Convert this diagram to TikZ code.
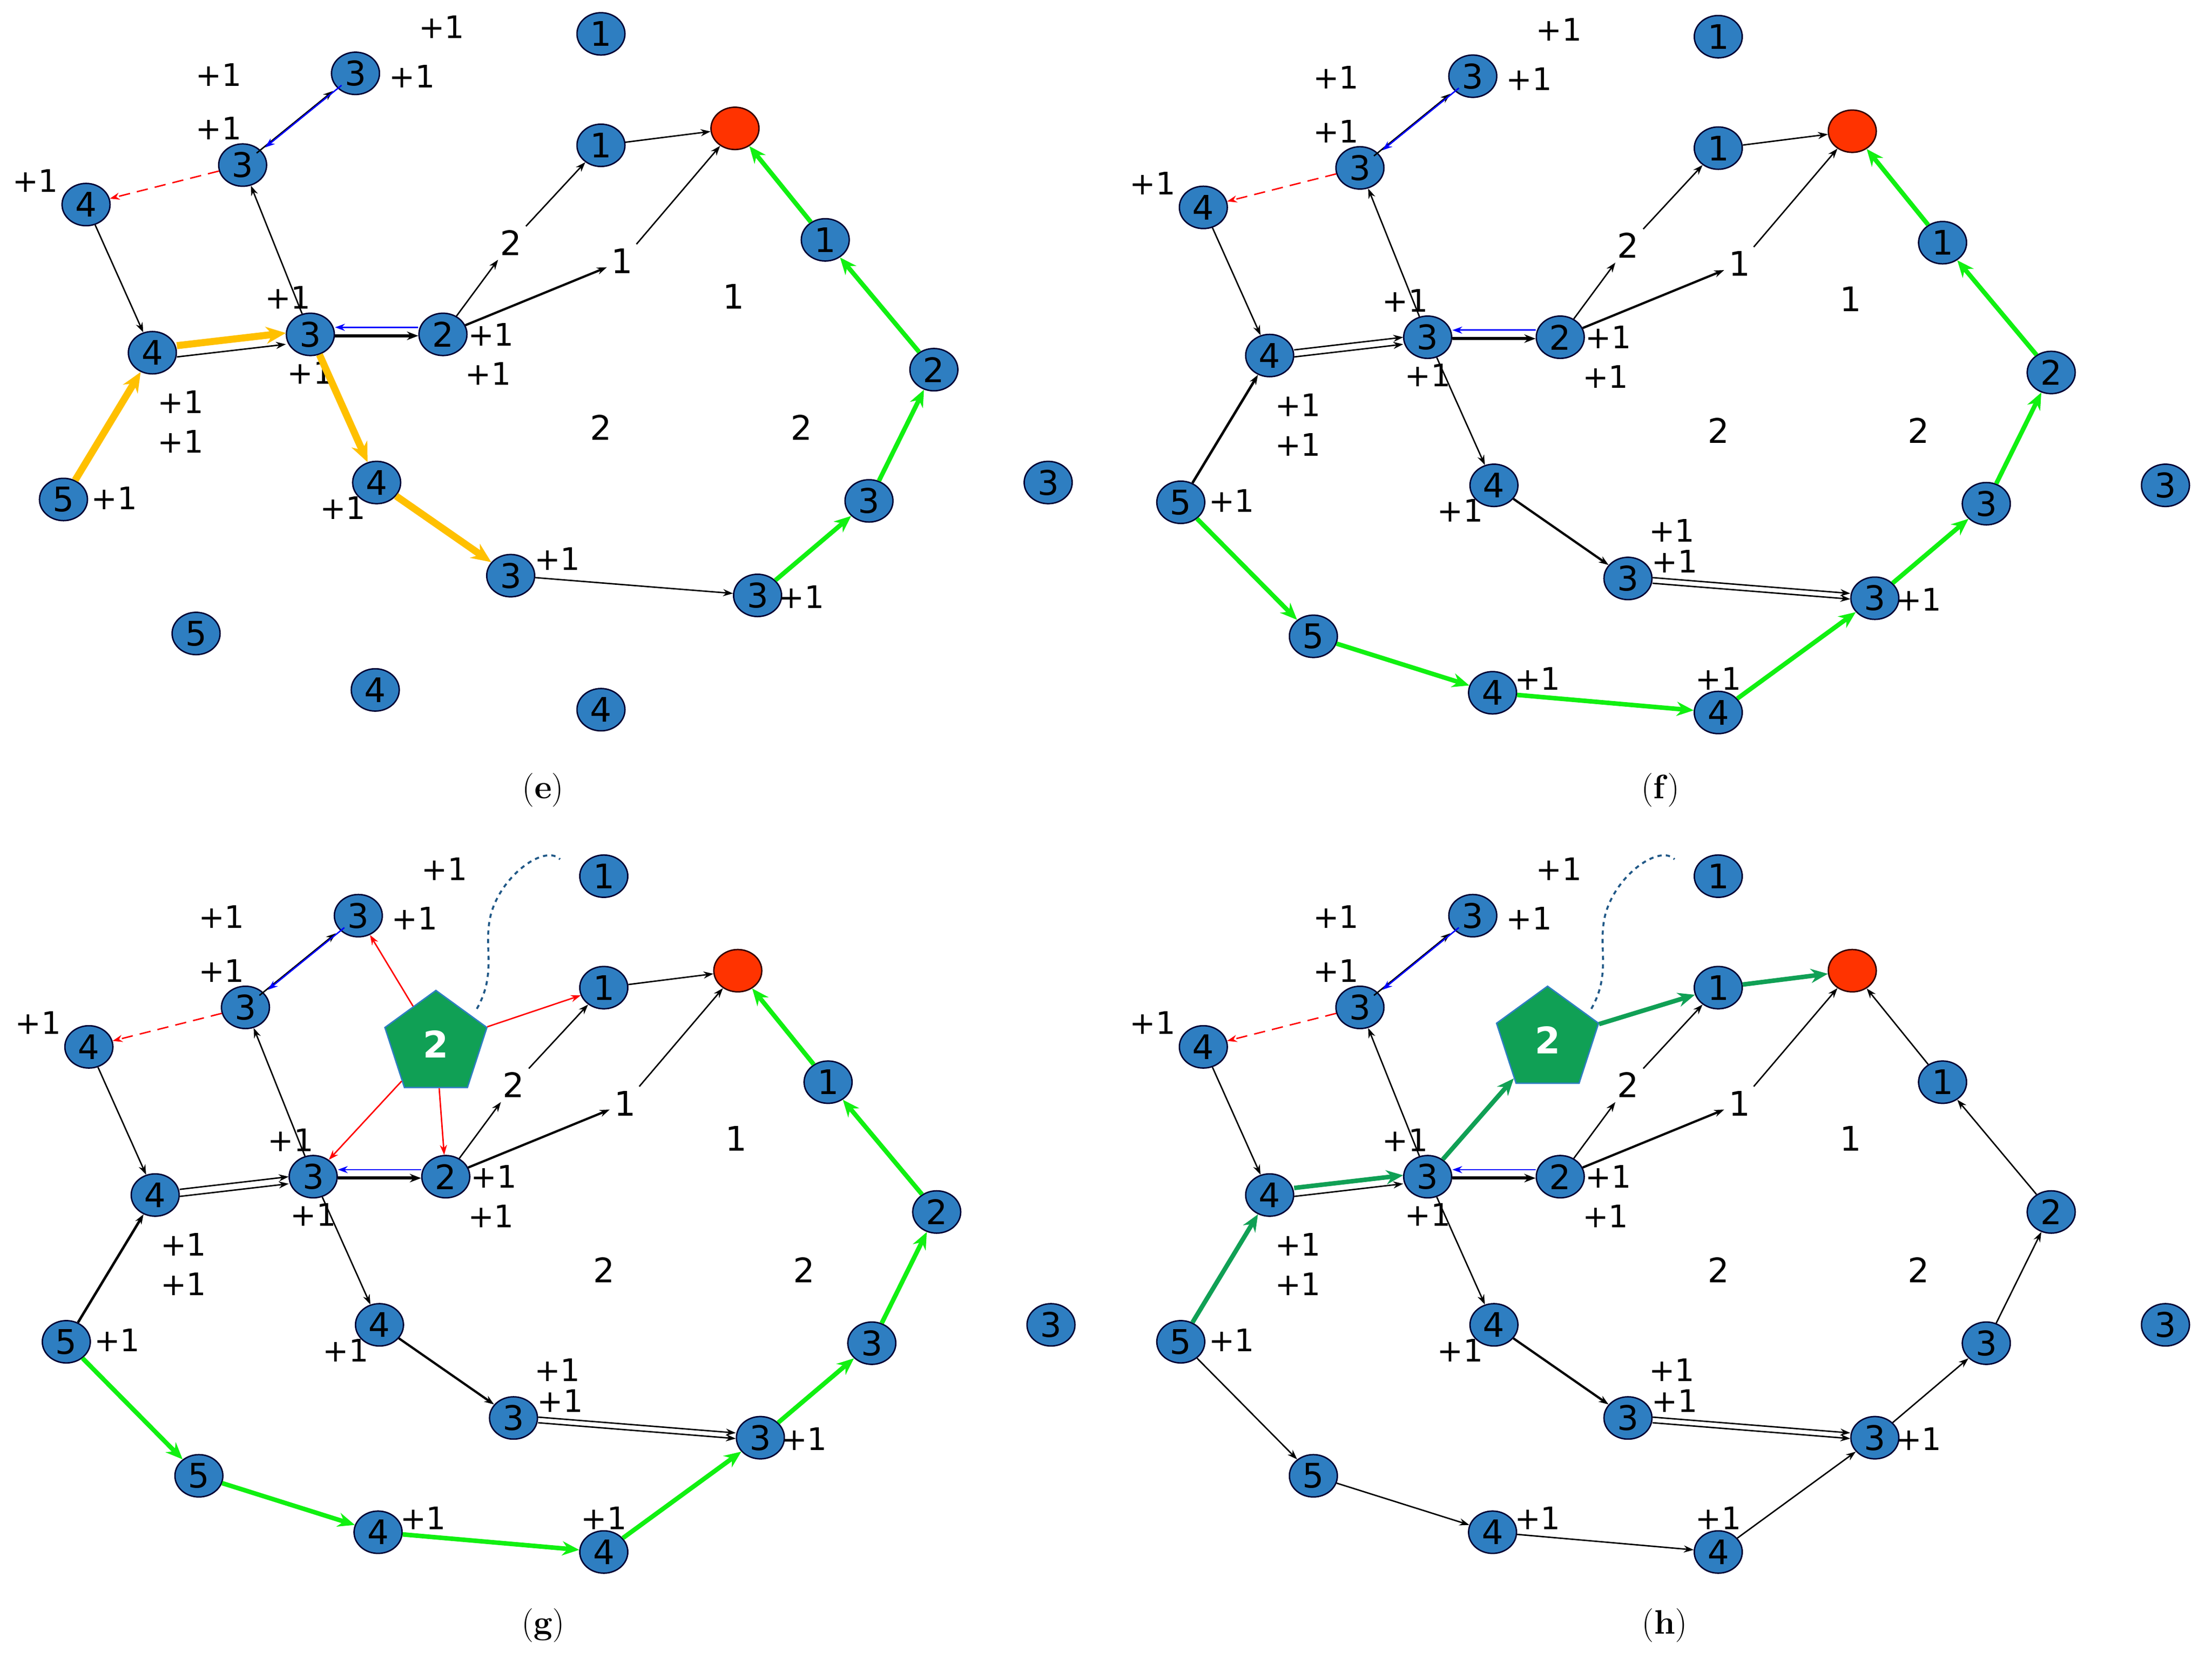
\documentclass[tikz,border=0pt]{standalone}
\usepackage{fontspec}
\newfontfamily\djfont{DejaVu Sans}
\usetikzlibrary{shapes.geometric,arrows.meta}
\definecolor{nblue}{HTML}{2E7EC1}
\definecolor{ygold}{HTML}{FFC000}
\definecolor{lgreen}{HTML}{11F011}
\definecolor{dgreen}{HTML}{10A055}
\tikzset{
 n/.style={ellipse,draw=black!80!blue,line width=1pt,fill=nblue,minimum width=34pt,minimum height=30pt,inner sep=0pt,font=\djfont\fontsize{24}{24}\selectfont},
 rn/.style={ellipse,draw=black!80!red,line width=1pt,fill={rgb,255:red,255;green,51;blue,0},minimum width=34pt,minimum height=30pt},
 pl/.style={font=\djfont\fontsize{22}{22}\selectfont,inner sep=1pt},
 tl/.style={font=\djfont\fontsize{24}{24}\selectfont,inner sep=3pt},
 ar/.style={-{Stealth[length=7pt,width=5pt]},line width=1pt},
 thk/.style={-{Stealth[length=14pt,width=12pt]},line width=5pt},
 mid/.style={-{Stealth[length=12pt,width=10pt]},line width=3.2pt},
 pent/.style={regular polygon,regular polygon sides=5,fill=dgreen,draw=nblue,line width=1pt,minimum size=76pt,inner sep=0pt,text=white,font=\djfont\bfseries\fontsize{26}{26}\selectfont},
 captxt/.style={font=\fontsize{24}{24}\selectfont}
}
\newcommand{\basenodes}{%
 \node[n] (A3) at (252,52) {3};
 \node[n] (B3) at (172,117) {3};
 \node[n] (C4) at (61,145) {4};
 \node[n] (D4) at (108,250) {4};
 \node[n] (E3) at (220,237) {3};
 \node[n] (F2) at (314,237) {2};
 \node[n] (G1) at (426,103) {1};
 \node[rn] (R) at (521,91) {};
 \node[n] (H1) at (426,24) {1};
 \node[n] (I1) at (585,170) {1};
 \node[n] (J2) at (662,262) {2};
 \node[n] (K3) at (616,355) {3};
 \node[n] (L3) at (743,342) {3};
 \node[n] (M4) at (267,342) {4};
 \node[n] (N3) at (362,408) {3};
 \node[n] (O3) at (537,422) {3};
 \node[n] (P5) at (45,354) {5};
 \node[n] (Q5) at (139,449) {5};
 \node[n] (S4) at (266,489) {4};
 \node[n] (T4) at (426,503) {4};
 \node[tl] (t2) at (362,172) {2};
 \node[tl] (t1) at (441,185) {1};
 \node[tl] (u1) at (520,210) {1};
 \node[tl] (v2) at (426,303) {2};
 \node[tl] (w2) at (568,303) {2};
 \node[pl] (p1) at (313,19) {+1};
 \node[pl] (p2) at (292,54) {+1};
 \node[pl] (p3) at (155,53) {+1};
 \node[pl] (p4) at (155,91) {+1};
 \node[pl] (p5) at (25,128) {+1};
 \node[pl] (p6) at (204,211) {+1};
 \node[pl] (p7) at (348,237) {+1};
 \node[pl] (p8) at (346,265) {+1};
 \node[pl] (p9) at (220,264) {+1};
 \node[pl] (p10) at (128,285) {+1};
 \node[pl] (p11) at (128,313) {+1};
 \node[pl] (p12) at (81,353) {+1};
 \node[pl] (p13) at (243,360) {+1};
 \node[pl] (p14) at (395,396) {+1};
 \node[pl] (p15) at (568,423) {+1};
}
\newcommand{\extralabels}{%
 \node[pl] (p16) at (393,374) {+1};
 \node[pl] (p17) at (298,479) {+1};
 \node[pl] (p18) at (426,479) {+1};
}
\newcommand{\baseedges}{%
 \draw[ar] (C4) -- (D4);
 \draw[ar] (E3) -- (B3);
 \draw[ar,transform canvas={xshift=-3pt,yshift=-2pt}] (B3) -- (A3);
 \draw[ar,blue,transform canvas={xshift=3pt,yshift=2pt}] (A3) -- (B3);
 \draw[ar,red,dashed,dash pattern=on 8pt off 5pt] (B3) -- (C4);
 \draw[-{Stealth[length=8pt,width=6pt]},line width=2.2pt,transform canvas={yshift=-1pt}] (E3) -- (F2);
 \draw[ar,blue,transform canvas={yshift=5pt}] (F2) -- (E3);
 \draw[ar] (F2) -- (t2);
 \draw[ar] (t2) -- (G1);
 \draw[ar,line width=1.6pt] (F2) -- (t1);
 \draw[ar] (t1) -- (R);
}
\newcommand{\wave}{%
 \draw[nblue!70!black,dashed,line width=1.4pt] (336,118) .. controls (352,90) and (338,70) .. (348,45) .. controls (358,20) and (385,2) .. (395,12);
}
\begin{document}
\begin{tikzpicture}[x=1pt,y=-1pt]
\useasboundingbox (0,0) rectangle (1568,1180);
% ---------- (e)
\begin{scope}[shift={(0,0)}]
\basenodes
\baseedges
\draw[ar] (G1) -- (R);
\draw[ar,transform canvas={yshift=-5pt}] (D4) -- (E3);
\draw[ar] (N3) -- (O3);
\draw[thk,ygold,transform canvas={yshift=3pt}] (D4) -- (E3);
\draw[thk,ygold] (P5) -- (D4);
\draw[thk,ygold] (E3) -- (M4);
\draw[thk,ygold] (M4) -- (N3);
\draw[mid,lgreen] (O3) -- (K3);
\draw[mid,lgreen] (K3) -- (J2);
\draw[mid,lgreen] (J2) -- (I1);
\draw[mid,lgreen] (I1) -- (R);
\node[captxt] at (385,560) {(\textbf{e})};
\end{scope}
% ---------- (f)
\begin{scope}[shift={(792,2)}]
\basenodes\extralabels
\baseedges
\draw[ar] (G1) -- (R);
\draw[ar,transform canvas={yshift=-3pt}] (D4) -- (E3);
\draw[ar,transform canvas={yshift=2pt}] (D4) -- (E3);
\draw[ar] (E3) -- (M4);
\draw[ar,line width=1.6pt] (M4) -- (N3);
\draw[ar,transform canvas={yshift=-2pt}] (N3) -- (O3);
\draw[ar,transform canvas={yshift=2pt}] (N3) -- (O3);
\draw[ar,line width=1.8pt] (P5) -- (D4);
\draw[mid,lgreen] (P5) -- (Q5);
\draw[mid,lgreen] (Q5) -- (S4);
\draw[mid,lgreen] (S4) -- (T4);
\draw[mid,lgreen] (T4) -- (O3);
\draw[mid,lgreen] (O3) -- (K3);
\draw[mid,lgreen] (K3) -- (J2);
\draw[mid,lgreen] (J2) -- (I1);
\draw[mid,lgreen] (I1) -- (R);
\node[captxt] at (385,558) {(\textbf{f})};
\end{scope}
% ---------- (g)
\begin{scope}[shift={(2,597)}]
\basenodes\extralabels
\node[pent] (PG) at (307,143) {2};
\baseedges
\draw[ar] (G1) -- (R);
\draw[ar,transform canvas={yshift=-3pt}] (D4) -- (E3);
\draw[ar,transform canvas={yshift=2pt}] (D4) -- (E3);
\draw[ar] (E3) -- (M4);
\draw[ar,line width=1.6pt] (M4) -- (N3);
\draw[ar,transform canvas={yshift=-2pt}] (N3) -- (O3);
\draw[ar,transform canvas={yshift=2pt}] (N3) -- (O3);
\draw[ar,line width=1.8pt] (P5) -- (D4);
\draw[ar,red] (PG) -- (A3);
\draw[ar,red] (PG) -- (G1);
\draw[ar,red] (PG) -- (E3);
\draw[ar,red] (PG) -- (F2);
\wave
\draw[mid,lgreen] (P5) -- (Q5);
\draw[mid,lgreen] (Q5) -- (S4);
\draw[mid,lgreen] (S4) -- (T4);
\draw[mid,lgreen] (T4) -- (O3);
\draw[mid,lgreen] (O3) -- (K3);
\draw[mid,lgreen] (K3) -- (J2);
\draw[mid,lgreen] (J2) -- (I1);
\draw[mid,lgreen] (I1) -- (R);
\node[captxt] at (383,555) {(\textbf{g})};
\end{scope}
% ---------- (h)
\begin{scope}[shift={(792,597)}]
\basenodes\extralabels
\node[pent] (PH) at (305,140) {2};
\baseedges
\draw[ar,transform canvas={yshift=-3pt}] (D4) -- (E3);
\draw[ar] (E3) -- (M4);
\draw[ar,line width=1.6pt] (M4) -- (N3);
\draw[ar,transform canvas={yshift=-2pt}] (N3) -- (O3);
\draw[ar,transform canvas={yshift=2pt}] (N3) -- (O3);
\draw[ar] (P5) -- (Q5);
\draw[ar] (Q5) -- (S4);
\draw[ar] (S4) -- (T4);
\draw[ar] (T4) -- (O3);
\draw[ar] (O3) -- (K3);
\draw[ar] (K3) -- (J2);
\draw[ar] (J2) -- (I1);
\draw[ar] (I1) -- (R);
\wave
\draw[mid,dgreen] (P5) -- (D4);
\draw[mid,dgreen,transform canvas={yshift=3pt}] (D4) -- (E3);
\draw[mid,dgreen] (E3) -- (PH);
\draw[mid,dgreen] (PH) -- (G1);
\draw[mid,dgreen] (G1) -- (R);
\node[captxt] at (388,555) {(\textbf{h})};
\end{scope}
\end{tikzpicture}
\end{document}
